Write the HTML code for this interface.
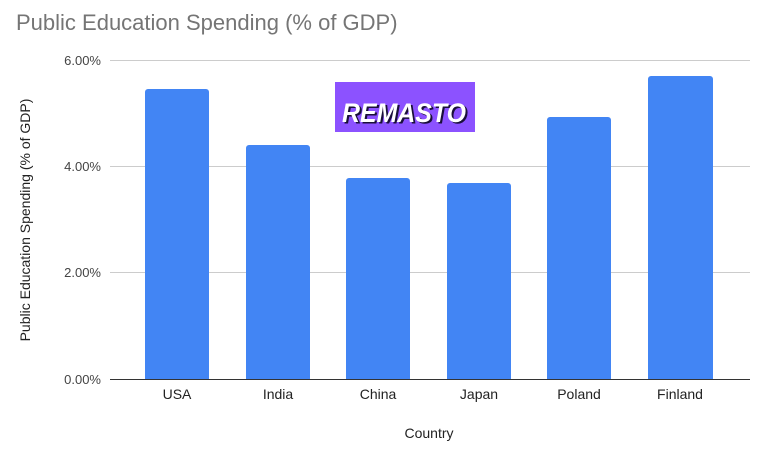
<!DOCTYPE html>
<html><head><meta charset="utf-8"><style>
body{margin:0;background:#fff;}
svg{display:block;font-family:"Liberation Sans",sans-serif;}
</style></head><body>
<svg width="769" height="454" viewBox="0 0 769 454">
<rect width="769" height="454" fill="#fff"/>
<text x="16" y="30" font-size="22" fill="#757575">Public Education Spending (% of GDP)</text>
<g stroke="#cccccc" stroke-width="1">
<line x1="110" x2="750" y1="60.5" y2="60.5"/>
<line x1="110" x2="750" y1="166.5" y2="166.5"/>
<line x1="110" x2="750" y1="272.5" y2="272.5"/>
</g>
<g font-size="13" fill="#444" text-anchor="end">
<text x="101" y="65">6.00%</text>
<text x="101" y="171">4.00%</text>
<text x="101" y="277">2.00%</text>
<text x="101" y="384">0.00%</text>
</g>
<g fill="#4285f4">
<path d="M145,379V92a3,3 0 0 1 3,-3H206a3,3 0 0 1 3,3V379Z"/>
<path d="M246,379V148a3,3 0 0 1 3,-3H307a3,3 0 0 1 3,3V379Z"/>
<path d="M346,379V181a3,3 0 0 1 3,-3H407a3,3 0 0 1 3,3V379Z"/>
<path d="M447,379V186a3,3 0 0 1 3,-3H508a3,3 0 0 1 3,3V379Z"/>
<path d="M547,379V120a3,3 0 0 1 3,-3H608a3,3 0 0 1 3,3V379Z"/>
<path d="M648,379V79a3,3 0 0 1 3,-3H710a3,3 0 0 1 3,3V379Z"/>
</g>
<line x1="110" x2="750" y1="379.5" y2="379.5" stroke="#333" stroke-width="1"/>
<g font-size="14" fill="#222" text-anchor="middle">
<text x="177" y="399">USA</text>
<text x="278" y="399">India</text>
<text x="378" y="399">China</text>
<text x="479" y="399">Japan</text>
<text x="579" y="399">Poland</text>
<text x="680" y="399">Finland</text>
<text x="429" y="438">Country</text>
</g>
<text transform="translate(30,220) rotate(-90)" font-size="14" fill="#222" text-anchor="middle">Public Education Spending (% of GDP)</text>
<rect x="335" y="82" width="140" height="50" fill="#8c52ff"/>
<text x="342" y="122" font-size="27" font-weight="bold" font-style="italic" fill="#1a0f3a" textLength="124" lengthAdjust="spacingAndGlyphs" transform="translate(2,1.5)">REMASTO</text>
<text x="342" y="122" font-size="27" font-weight="bold" font-style="italic" fill="#fff" textLength="124" lengthAdjust="spacingAndGlyphs">REMASTO</text>
</svg>
</body></html>
